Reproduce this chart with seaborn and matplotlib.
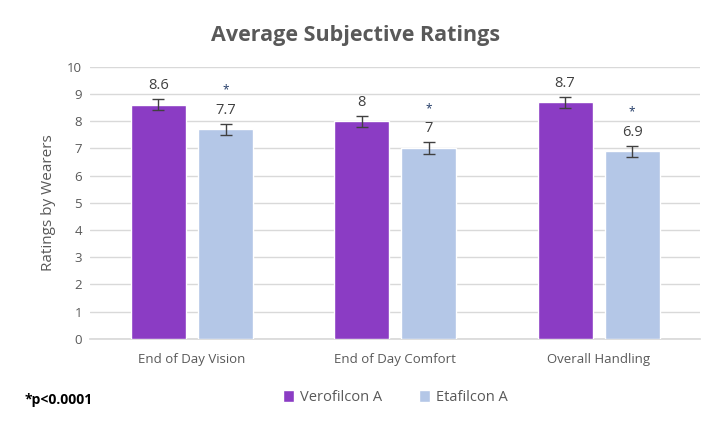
import numpy as np
import pandas as pd
import matplotlib
matplotlib.use("Agg")
import matplotlib.pyplot as plt
import seaborn as sns

categories = ["End of Day Vision", "End of Day Comfort", "Overall Handling"]
verofilcon = [8.6, 8.0, 8.7]
etafilcon = [7.7, 7.0, 6.9]
vero_err = [0.2, 0.2, 0.2]
eta_err = [0.2, 0.22, 0.2]
lenses = ["Verofilcon A", "Etafilcon A"]
colors = ["#8B3CC4", "#B4C7E7"]

df = pd.DataFrame({
    "category": categories * 2,
    "lens": [lenses[0]] * 3 + [lenses[1]] * 3,
    "rating": verofilcon + etafilcon,
})

sns.set_theme(style="white")
plt.rcParams["font.family"] = ["Open Sans", "DejaVu Sans"]
gray = "#595959"

fig = plt.figure(figsize=(7.11, 4.23), dpi=100)
ax = fig.add_axes([0.127, 0.199, 0.858, 0.643])

sns.barplot(data=df, x="category", y="rating", hue="lens", palette=colors,
            saturation=1, width=0.66, gap=0.18, errorbar=None, ax=ax, zorder=3)

# error bars, value labels and significance stars
for cont, vals, errs, is_eta in zip(ax.containers, [verofilcon, etafilcon],
                                    [vero_err, eta_err], [False, True]):
    xs = [p.get_x() + p.get_width() / 2 for p in cont.patches]
    ax.errorbar(xs, vals, yerr=errs, fmt="none", ecolor="#404040",
                elinewidth=1, capsize=4, capthick=1, zorder=4)
    for x, v, e in zip(xs, vals, errs):
        ax.text(x, v + e + 0.22, f"{v:g}", ha="center", va="bottom",
                fontsize=10.5, color="#404040")
        if is_eta:
            ax.text(x, v + 1.45, "*", ha="center", va="center",
                    fontsize=8.5, color="#1F3864")

ax.set_ylim(0, 10)
ax.set_xlim(-0.5, 2.5)
ax.set_yticks(range(0, 11))
ax.yaxis.grid(True, color="#D9D9D9", linewidth=1, zorder=0)
ax.set_axisbelow(True)
for s in ["top", "right", "left"]:
    ax.spines[s].set_visible(False)
ax.spines["bottom"].set_color("#D9D9D9")
ax.tick_params(axis="y", length=0, labelsize=9.5, labelcolor=gray, pad=6)
ax.tick_params(axis="x", length=0, labelsize=9.5, labelcolor=gray, pad=10)
ax.set_xlabel("")
ax.set_ylabel("Ratings by Wearers", fontsize=11, color=gray, labelpad=8)

fig.suptitle("Average Subjective Ratings", x=0.5, y=0.94, fontsize=15.5,
             fontweight="bold", color=gray)

ax.legend(loc="upper center", bbox_to_anchor=(0.5, -0.14), ncol=2, frameon=False,
          fontsize=10.5, labelcolor=gray, handlelength=0.8, handleheight=0.8,
          handletextpad=0.4, columnspacing=2.5)

fig.text(0.035, 0.045, "*p<0.0001", fontsize=10, fontweight="bold", color="black")

fig.savefig("out.png", dpi=100)
